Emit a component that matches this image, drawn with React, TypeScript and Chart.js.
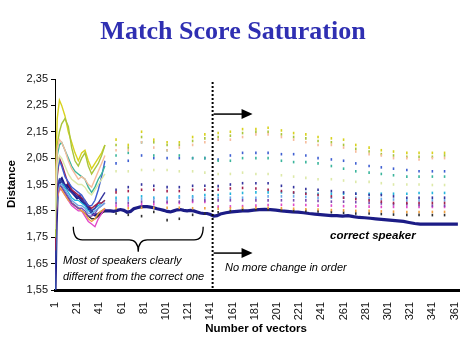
import React, { useEffect, useRef } from "react";
import { Chart, registerables } from "chart.js";

Chart.register(...registerables);

const TITLE = "Match Score Saturation";
const X_TITLE = "Number of vectors";
const Y_TITLE = "Distance";
const NOTE_LEFT_1 = "Most of speakers clearly";
const NOTE_LEFT_2 = "different from the correct one";
const NOTE_RIGHT = "No more change in order";
const CORRECT_LABEL = "correct speaker";

const xTicks = [1, 21, 41, 61, 81, 101, 121, 141, 161, 181, 201, 221, 241, 261, 281, 301, 321, 341, 361];
const yTicks = [1.55, 1.65, 1.75, 1.85, 1.95, 2.05, 2.15, 2.25, 2.35];

// early part (dense lines) x positions
const earlyX = [1, 2, 3, 5, 7, 10, 13, 16, 19, 22, 25, 28, 31, 34, 37, 40, 43, 46];
// later part (sparse marks) x positions
const lateX = [56, 67, 79, 90, 102, 113, 125, 136, 148, 159, 170, 182, 193, 205, 216, 227, 238, 250, 261, 272, 284, 295, 306, 318, 329, 341, 352];

const yellowEarly = [1.75, 2.05, 2.2, 2.27, 2.25, 2.21, 2.15, 2.11, 2.07, 2.04, 2.07, 2.08, 2.04, 2.01, 2.03, 2.05, 2.07, 2.1];
const yellowLate = [2.12, 2.1, 2.15, 2.12, 2.11, 2.11, 2.13, 2.14, 2.145, 2.15, 2.16, 2.16, 2.165, 2.155, 2.145, 2.14, 2.13, 2.125, 2.12, 2.1, 2.09, 2.08, 2.075, 2.07, 2.07, 2.07, 2.07];
const oliveEarly = [1.75, 1.98, 2.1, 2.15, 2.18, 2.2, 2.17, 2.09, 2.04, 2.02, 2.05, 2.07, 2.02, 1.99, 2.01, 2.03, 2.06, 2.1];
const oliveLate = [2.1, 2.09, 2.13, 2.11, 2.1, 2.1, 2.115, 2.125, 2.13, 2.135, 2.145, 2.15, 2.15, 2.14, 2.13, 2.125, 2.115, 2.11, 2.1, 2.085, 2.075, 2.065, 2.06, 2.055, 2.055, 2.055, 2.06];
const peachEarly = [1.8, 2.0, 2.08, 2.12, 2.11, 2.08, 2.04, 2.01, 1.99, 1.97, 1.98, 1.97, 1.95, 1.94, 1.97, 2.0, 2.03, 2.06];
const peachLate = [2.08, 2.08, 2.11, 2.09, 2.08, 2.09, 2.1, 2.11, 2.12, 2.12, 2.13, 2.14, 2.14, 2.13, 2.12, 2.11, 2.1, 2.1, 2.09, 2.075, 2.065, 2.06, 2.05, 2.05, 2.045, 2.05, 2.05];
const tealEarly = [1.8, 1.98, 2.06, 2.1, 2.11, 2.08, 2.05, 2.02, 2.0, 1.99, 1.98, 1.97, 1.94, 1.92, 1.94, 1.97, 1.99, 2.02];
const tealLate = [2.06, 2.07, 2.11, 2.06, 2.08, 2.06, 2.05, 2.05, 2.04, 2.04, 2.05, 2.05, 2.05, 2.04, 2.035, 2.035, 2.03, 2.02, 2.01, 2.0, 1.995, 1.99, 1.985, 1.98, 1.98, 1.98, 1.98];
const blueEarly = [1.75, 1.92, 2.0, 2.04, 2.02, 1.98, 1.96, 1.94, 1.93, 1.92, 1.91, 1.89, 1.87, 1.87, 1.89, 1.93, 1.98, 2.04];
const blueLate = [2.03, 2.04, 2.06, 2.05, 2.05, 2.05, 2.05, 2.05, 2.045, 2.06, 2.07, 2.07, 2.07, 2.065, 2.065, 2.06, 2.05, 2.045, 2.04, 2.03, 2.02, 2.015, 2.01, 2.005, 2.0, 2.0, 2.0];
const paleEarly = [1.78, 1.94, 2.02, 2.06, 2.05, 2.02, 1.99, 1.97, 1.96, 1.95, 1.95, 1.94, 1.92, 1.91, 1.93, 1.95, 1.97, 1.99];
const paleLate = [2.0, 2.0, 2.005, 2.005, 2.005, 2.0, 2.0, 1.995, 1.99, 1.99, 1.995, 1.99, 1.99, 1.985, 1.98, 1.975, 1.97, 1.97, 1.965, 1.96, 1.96, 1.955, 1.95, 1.95, 1.95, 1.948, 1.948];
const maroonEarly = [1.7, 1.88, 1.98, 2.05, 2.03, 1.99, 1.95, 1.93, 1.92, 1.91, 1.9, 1.89, 1.87, 1.86, 1.87, 1.88, 1.88, 1.89];
const maroonLate = [1.92, 1.925, 1.93, 1.93, 1.925, 1.925, 1.93, 1.93, 1.93, 1.935, 1.937, 1.935, 1.93, 1.925, 1.92, 1.915, 1.91, 1.905, 1.9, 1.895, 1.89, 1.885, 1.88, 1.88, 1.88, 1.88, 1.88];
const indigoEarly = [1.55, 1.85, 1.93, 1.97, 1.96, 1.95, 1.93, 1.92, 1.91, 1.9, 1.89, 1.88, 1.86, 1.85, 1.86, 1.88, 1.9, 1.92];
const indigoLate = [1.93, 1.94, 1.95, 1.945, 1.94, 1.94, 1.945, 1.945, 1.944, 1.95, 1.955, 1.955, 1.955, 1.945, 1.94, 1.933, 1.93, 1.925, 1.92, 1.915, 1.91, 1.91, 1.905, 1.9, 1.9, 1.9, 1.9];
const cyanEarly = [1.55, 1.86, 1.94, 1.97, 1.96, 1.94, 1.92, 1.9, 1.89, 1.89, 1.88, 1.87, 1.85, 1.85, 1.86, 1.87, 1.88, 1.89];
const cyanLate = [1.9, 1.9, 1.905, 1.9, 1.9, 1.905, 1.905, 1.91, 1.91, 1.915, 1.918, 1.92, 1.92, 1.92, 1.918, 1.918, 1.915, 1.915, 1.915, 1.915, 1.915, 1.915, 1.915, 1.915, 1.918, 1.918, 1.918];
const skyEarly = [1.6, 1.85, 1.92, 1.95, 1.95, 1.93, 1.91, 1.89, 1.88, 1.87, 1.87, 1.86, 1.84, 1.84, 1.85, 1.86, 1.87, 1.88];
const skyLate = [1.89, 1.89, 1.895, 1.895, 1.895, 1.9, 1.9, 1.9, 1.9, 1.9, 1.9, 1.9, 1.905, 1.905, 1.905, 1.903, 1.9, 1.9, 1.9, 1.9, 1.898, 1.895, 1.893, 1.89, 1.89, 1.89, 1.89];
const purpleEarly = [1.62, 1.84, 1.91, 1.95, 1.94, 1.92, 1.9, 1.88, 1.87, 1.86, 1.86, 1.85, 1.83, 1.83, 1.84, 1.86, 1.87, 1.88];
const purpleLate = [1.88, 1.88, 1.885, 1.885, 1.885, 1.885, 1.89, 1.89, 1.89, 1.89, 1.89, 1.89, 1.89, 1.89, 1.89, 1.89, 1.888, 1.885, 1.885, 1.883, 1.88, 1.878, 1.875, 1.875, 1.872, 1.87, 1.87];
const pinkEarly = [1.65, 1.83, 1.9, 1.93, 1.93, 1.91, 1.89, 1.87, 1.86, 1.85, 1.85, 1.83, 1.81, 1.8, 1.79, 1.82, 1.84, 1.86];
const pinkLate = [1.87, 1.87, 1.875, 1.875, 1.88, 1.88, 1.884, 1.884, 1.866, 1.867, 1.868, 1.87, 1.872, 1.873, 1.873, 1.872, 1.87, 1.87, 1.868, 1.867, 1.866, 1.865, 1.865, 1.865, 1.865, 1.865, 1.865];
const orangeEarly = [1.68, 1.84, 1.9, 1.94, 1.93, 1.91, 1.89, 1.88, 1.87, 1.86, 1.85, 1.84, 1.82, 1.81, 1.82, 1.84, 1.85, 1.86];
const orangeLate = [1.86, 1.86, 1.862, 1.862, 1.862, 1.862, 1.86, 1.86, 1.858, 1.86, 1.862, 1.862, 1.862, 1.86, 1.858, 1.856, 1.855, 1.853, 1.852, 1.85, 1.85, 1.848, 1.847, 1.846, 1.846, 1.846, 1.846];
const blackEarly = [1.62, 1.84, 1.91, 1.95, 1.94, 1.92, 1.9, 1.88, 1.87, 1.86, 1.85, 1.84, 1.83, 1.82, 1.82, 1.83, 1.84, 1.85];
const blackLate = [1.84, 1.835, 1.83, 1.846, 1.815, 1.82, 1.835, 1.84, 1.845, 1.85, 1.855, 1.855, 1.855, 1.853, 1.85, 1.85, 1.848, 1.845, 1.843, 1.84, 1.84, 1.838, 1.836, 1.835, 1.835, 1.834, 1.834];

const correctX = [1, 2, 3, 5, 7, 9, 11, 13, 15, 17, 19, 21, 23, 25, 27, 29, 31, 33, 35, 37, 39, 41, 43, 45, 48, 51, 54, 57, 60, 63, 66, 69, 72, 75, 78, 81, 84, 87, 90, 93, 96, 99, 102, 105, 108, 111, 114, 117, 120, 123, 126, 129, 132, 135, 138, 141, 144, 147, 150, 155, 160, 165, 170, 175, 180, 185, 190, 195, 200, 205, 210, 215, 220, 225, 230, 235, 240, 245, 250, 255, 260, 265, 270, 275, 280, 285, 290, 295, 300, 305, 310, 315, 320, 325, 330, 335, 340, 345, 350, 355, 360, 364];
const correctY = [1.55, 1.8, 1.92, 1.96, 1.97, 1.95, 1.94, 1.95, 1.93, 1.92, 1.91, 1.9, 1.905, 1.89, 1.88, 1.875, 1.865, 1.85, 1.84, 1.835, 1.835, 1.84, 1.845, 1.85, 1.85, 1.85, 1.848, 1.852, 1.855, 1.852, 1.845, 1.848, 1.858, 1.862, 1.865, 1.866, 1.866, 1.864, 1.862, 1.858, 1.855, 1.852, 1.848, 1.846, 1.85, 1.854, 1.855, 1.852, 1.85, 1.852, 1.85, 1.846, 1.842, 1.84, 1.84, 1.836, 1.83, 1.832, 1.838, 1.843, 1.846, 1.848, 1.85, 1.85, 1.853, 1.855, 1.856, 1.855, 1.853, 1.85, 1.848, 1.846, 1.845, 1.843, 1.84, 1.838, 1.836, 1.834, 1.832, 1.832, 1.83, 1.832, 1.828, 1.825, 1.824, 1.822, 1.82, 1.818, 1.816, 1.814, 1.812, 1.81, 1.806, 1.802, 1.8, 1.8, 1.8, 1.8, 1.8, 1.8, 1.8, 1.8];

const speakers = [
  { early: paleEarly, late: paleLate, color: "#dde9a8" },
  { early: peachEarly, late: peachLate, color: "#f6bc9c" },
  { early: oliveEarly, late: oliveLate, color: "#a9c53c" },
  { early: yellowEarly, late: yellowLate, color: "#d8d21e" },
  { early: tealEarly, late: tealLate, color: "#3bb59c" },
  { early: blueEarly, late: blueLate, color: "#3f5fd2" },
  { early: maroonEarly, late: maroonLate, color: "#a3204c" },
  { early: indigoEarly, late: indigoLate, color: "#34349e" },
  { early: skyEarly, late: skyLate, color: "#6aa8e8" },
  { early: cyanEarly, late: cyanLate, color: "#22b4dc" },
  { early: purpleEarly, late: purpleLate, color: "#7a4ab0" },
  { early: orangeEarly, late: orangeLate, color: "#f0a040" },
  { early: pinkEarly, late: pinkLate, color: "#e048c8" },
  { early: blackEarly, late: blackLate, color: "#303030" },
];

const DIVIDER_X = 143;
const ARROW_END_X = 179;
const ARROW_UPPER_Y = 2.217;
const ARROW_LOWER_Y = 1.69;

const annotations = {
  id: "annotations",
  afterDraw(chart: any) {
    const { ctx, chartArea } = chart;
    const x = chart.scales.x;
    const y = chart.scales.y;
    ctx.save();

    // title
    ctx.font = 'bold 26px "Liberation Serif"';
    ctx.fillStyle = "#2f2fb2";
    ctx.textAlign = "center";
    ctx.textBaseline = "middle";
    ctx.fillText(TITLE, 233, 32);

    // axis titles
    ctx.fillStyle = "#000";
    ctx.font = 'bold 11.5px "Liberation Sans"';
    ctx.fillText(X_TITLE, 256, 329);
    ctx.save();
    ctx.translate(12, 184);
    ctx.rotate(-Math.PI / 2);
    ctx.fillText(Y_TITLE, 0, 0);
    ctx.restore();

    // dotted divider
    const vx = x.getPixelForValue(DIVIDER_X);
    ctx.strokeStyle = "#000";
    ctx.lineWidth = 2;
    ctx.setLineDash([2, 2]);
    ctx.beginPath();
    ctx.moveTo(vx, chartArea.top + 3);
    ctx.lineTo(vx, chartArea.bottom);
    ctx.stroke();
    ctx.setLineDash([]);

    // arrows
    const ax1 = x.getPixelForValue(ARROW_END_X);
    [ARROW_UPPER_Y, ARROW_LOWER_Y].forEach((v) => {
      const ay = y.getPixelForValue(v);
      ctx.lineWidth = 1.5;
      ctx.beginPath();
      ctx.moveTo(vx + 1, ay);
      ctx.lineTo(ax1 - 8, ay);
      ctx.stroke();
      ctx.beginPath();
      ctx.moveTo(ax1 - 11, ay - 5);
      ctx.lineTo(ax1, ay);
      ctx.lineTo(ax1 - 11, ay + 5);
      ctx.closePath();
      ctx.fill();
    });

    // brace
    const xL = x.getPixelForValue(17.5);
    const xR = x.getPixelForValue(134.5);
    const xC = x.getPixelForValue(76);
    const yT = y.getPixelForValue(1.79);
    const yM = y.getPixelForValue(1.74);
    const yB = y.getPixelForValue(1.695);
    const r = 9;
    ctx.lineWidth = 1.3;
    ctx.beginPath();
    ctx.moveTo(xL, yT);
    ctx.quadraticCurveTo(xL, yM, xL + r, yM);
    ctx.lineTo(xC - r, yM);
    ctx.quadraticCurveTo(xC, yM, xC, yB);
    ctx.quadraticCurveTo(xC, yM, xC + r, yM);
    ctx.lineTo(xR - r, yM);
    ctx.quadraticCurveTo(xR, yM, xR, yT);
    ctx.stroke();

    // notes
    ctx.textAlign = "left";
    ctx.font = 'italic 11px "Liberation Sans"';
    ctx.fillText(NOTE_LEFT_1, 63, 261);
    ctx.fillText(NOTE_LEFT_2, 63, 277);
    ctx.fillText(NOTE_RIGHT, 225, 268);
    ctx.font = 'bold italic 11.5px "Liberation Sans"';
    ctx.fillText(CORRECT_LABEL, 330, 236);

    ctx.restore();
  },
};

export default function App() {
  const ref = useRef<HTMLCanvasElement>(null);
  useEffect(() => {
    document.body.style.margin = "0";
    const datasets: any[] = [];
    speakers.forEach((s) => {
      datasets.push({
        data: earlyX.map((xv, i) => ({ x: xv, y: s.early[i] })),
        borderColor: s.color,
        borderWidth: 1.4,
        pointRadius: 0,
        tension: 0,
      });
    });
    speakers.forEach((s) => {
      datasets.push({
        data: lateX.map((xv, i) => ({ x: xv, y: s.late[i] })),
        borderColor: s.color,
        backgroundColor: s.color,
        showLine: false,
        pointStyle: "line",
        rotation: 90,
        pointRadius: 1.3,
        pointBorderWidth: 1.6,
      });
    });
    datasets.push({
      data: correctX.map((xv, i) => ({ x: xv, y: correctY[i] })),
      borderColor: "#1c1c86",
      borderWidth: 3.2,
      pointRadius: 0,
      tension: 0,
    });

    const chart = new Chart(ref.current!, {
      type: "line",
      data: { datasets },
      options: {
        animation: false,
        responsive: false,
        layout: { padding: { top: 79, right: 15, left: 0, bottom: 0 } },
        plugins: { legend: { display: false }, tooltip: { enabled: false }, title: { display: false } },
        scales: {
          x: {
            type: "linear",
            min: 1,
            max: 365,
            afterBuildTicks: (s: any) => {
              s.ticks = xTicks.map((v) => ({ value: v }));
            },
            afterFit: (s: any) => {
              s.height = 65;
            },
            ticks: {
              autoSkip: false,
              maxRotation: 90,
              minRotation: 90,
              padding: 4,
              color: "#111",
              font: { family: "Liberation Sans", size: 11 },
            },
            grid: { display: false },
            border: { display: true, color: "#000", width: 3, dash: [6, 1.5] },
          },
          y: {
            type: "linear",
            min: 1.55,
            max: 2.35,
            afterBuildTicks: (s: any) => {
              s.ticks = yTicks.map((v) => ({ value: v }));
            },
            afterFit: (s: any) => {
              s.width = 55;
            },
            ticks: {
              padding: 3,
              color: "#111",
              font: { family: "Liberation Sans", size: 11 },
              callback: (v: any) => Number(v).toFixed(2).replace(".", ","),
            },
            grid: { drawOnChartArea: false, drawTicks: true, tickLength: 4, color: "#000" },
            border: { display: true, color: "#000", width: 1 },
          },
        },
      },
      plugins: [annotations],
    });
    return () => chart.destroy();
  }, []);
  return <canvas ref={ref} width={474} height={355} style={{ display: "block" }} />;
}
